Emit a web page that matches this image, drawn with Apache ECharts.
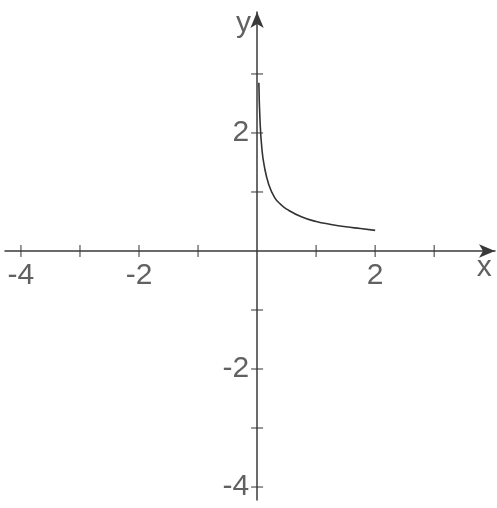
<!DOCTYPE html>
<html><head><meta charset="utf-8">
<script src="https://cdn.jsdelivr.net/npm/echarts@6/dist/echarts.min.js"></script>
<style>html,body{margin:0;padding:0;background:#fff}#c{width:497px;height:508px}</style>
</head><body><div id="c"></div>
<script>
const curveX = [0.03,0.05,0.08,0.12,0.2,0.3,0.4,0.5,0.75,1,1.25,1.5,1.75,2];
const curveY = [2.85,2.2,1.75,1.45,1.12,0.9,0.79,0.71,0.58,0.5,0.45,0.41,0.38,0.35];
const tickValues = [-4,-3,-2,-1,1,2,3];
const xLabelValues = [-4,-2,2];
const yLabelValues = [-4,-2,2];
const font = {fontFamily:'Liberation Sans', fontSize:30, color:'#3a3a3a'};
const lineCol = '#3a3a3a';
const chart = echarts.init(document.getElementById('c'));
chart.setOption({
  animation:false,
  grid:{left:5,right:2,top:12,bottom:8,containLabel:false,outerBoundsMode:'none'},
  xAxis:{type:'value', min:-4.27, max:4.03,
    axisLine:{onZero:true, symbol:['none','arrow'], symbolSize:[10,16], lineStyle:{color:lineCol,width:1.5}},
    axisTick:{show:false}, axisLabel:{show:false}, splitLine:{show:false}},
  yAxis:{type:'value', min:-4.22, max:4.05,
    axisLine:{onZero:true, symbol:['none','arrow'], symbolSize:[10,16], lineStyle:{color:lineCol,width:1.5}},
    axisTick:{show:false}, axisLabel:{show:false}, splitLine:{show:false}},
  series:[
    {type:'line', data:curveX.map((x,i)=>[x,curveY[i]]), smooth:true, showSymbol:false,
     lineStyle:{color:'#333',width:1.6}},
    {type:'scatter', symbol:'rect', symbolSize:[1.3,12], itemStyle:{color:lineCol},
     data:tickValues.map(v=>[v,0]), silent:true},
    {type:'scatter', symbol:'rect', symbolSize:[12,1.3], itemStyle:{color:lineCol},
     data:tickValues.map(v=>[0,v]), silent:true},
    {type:'scatter', symbolSize:0, data:xLabelValues.map(v=>[v,0]),
     label:{show:true, position:'bottom', distance:10, formatter:p=>String(p.value[0]), ...font}},
    {type:'scatter', symbolSize:0, data:yLabelValues.map(v=>[0,v]),
     label:{show:true, position:'left', distance:8, formatter:p=>String(p.value[1]), ...font}},
    {type:'scatter', symbolSize:0, data:[[3.85,0]],
     label:{show:true, position:'bottom', distance:2, formatter:'x', ...font}},
    {type:'scatter', symbolSize:0, data:[[0,3.85]],
     label:{show:true, position:'left', distance:6, formatter:'y', ...font}}
  ]
});
</script></body></html>
